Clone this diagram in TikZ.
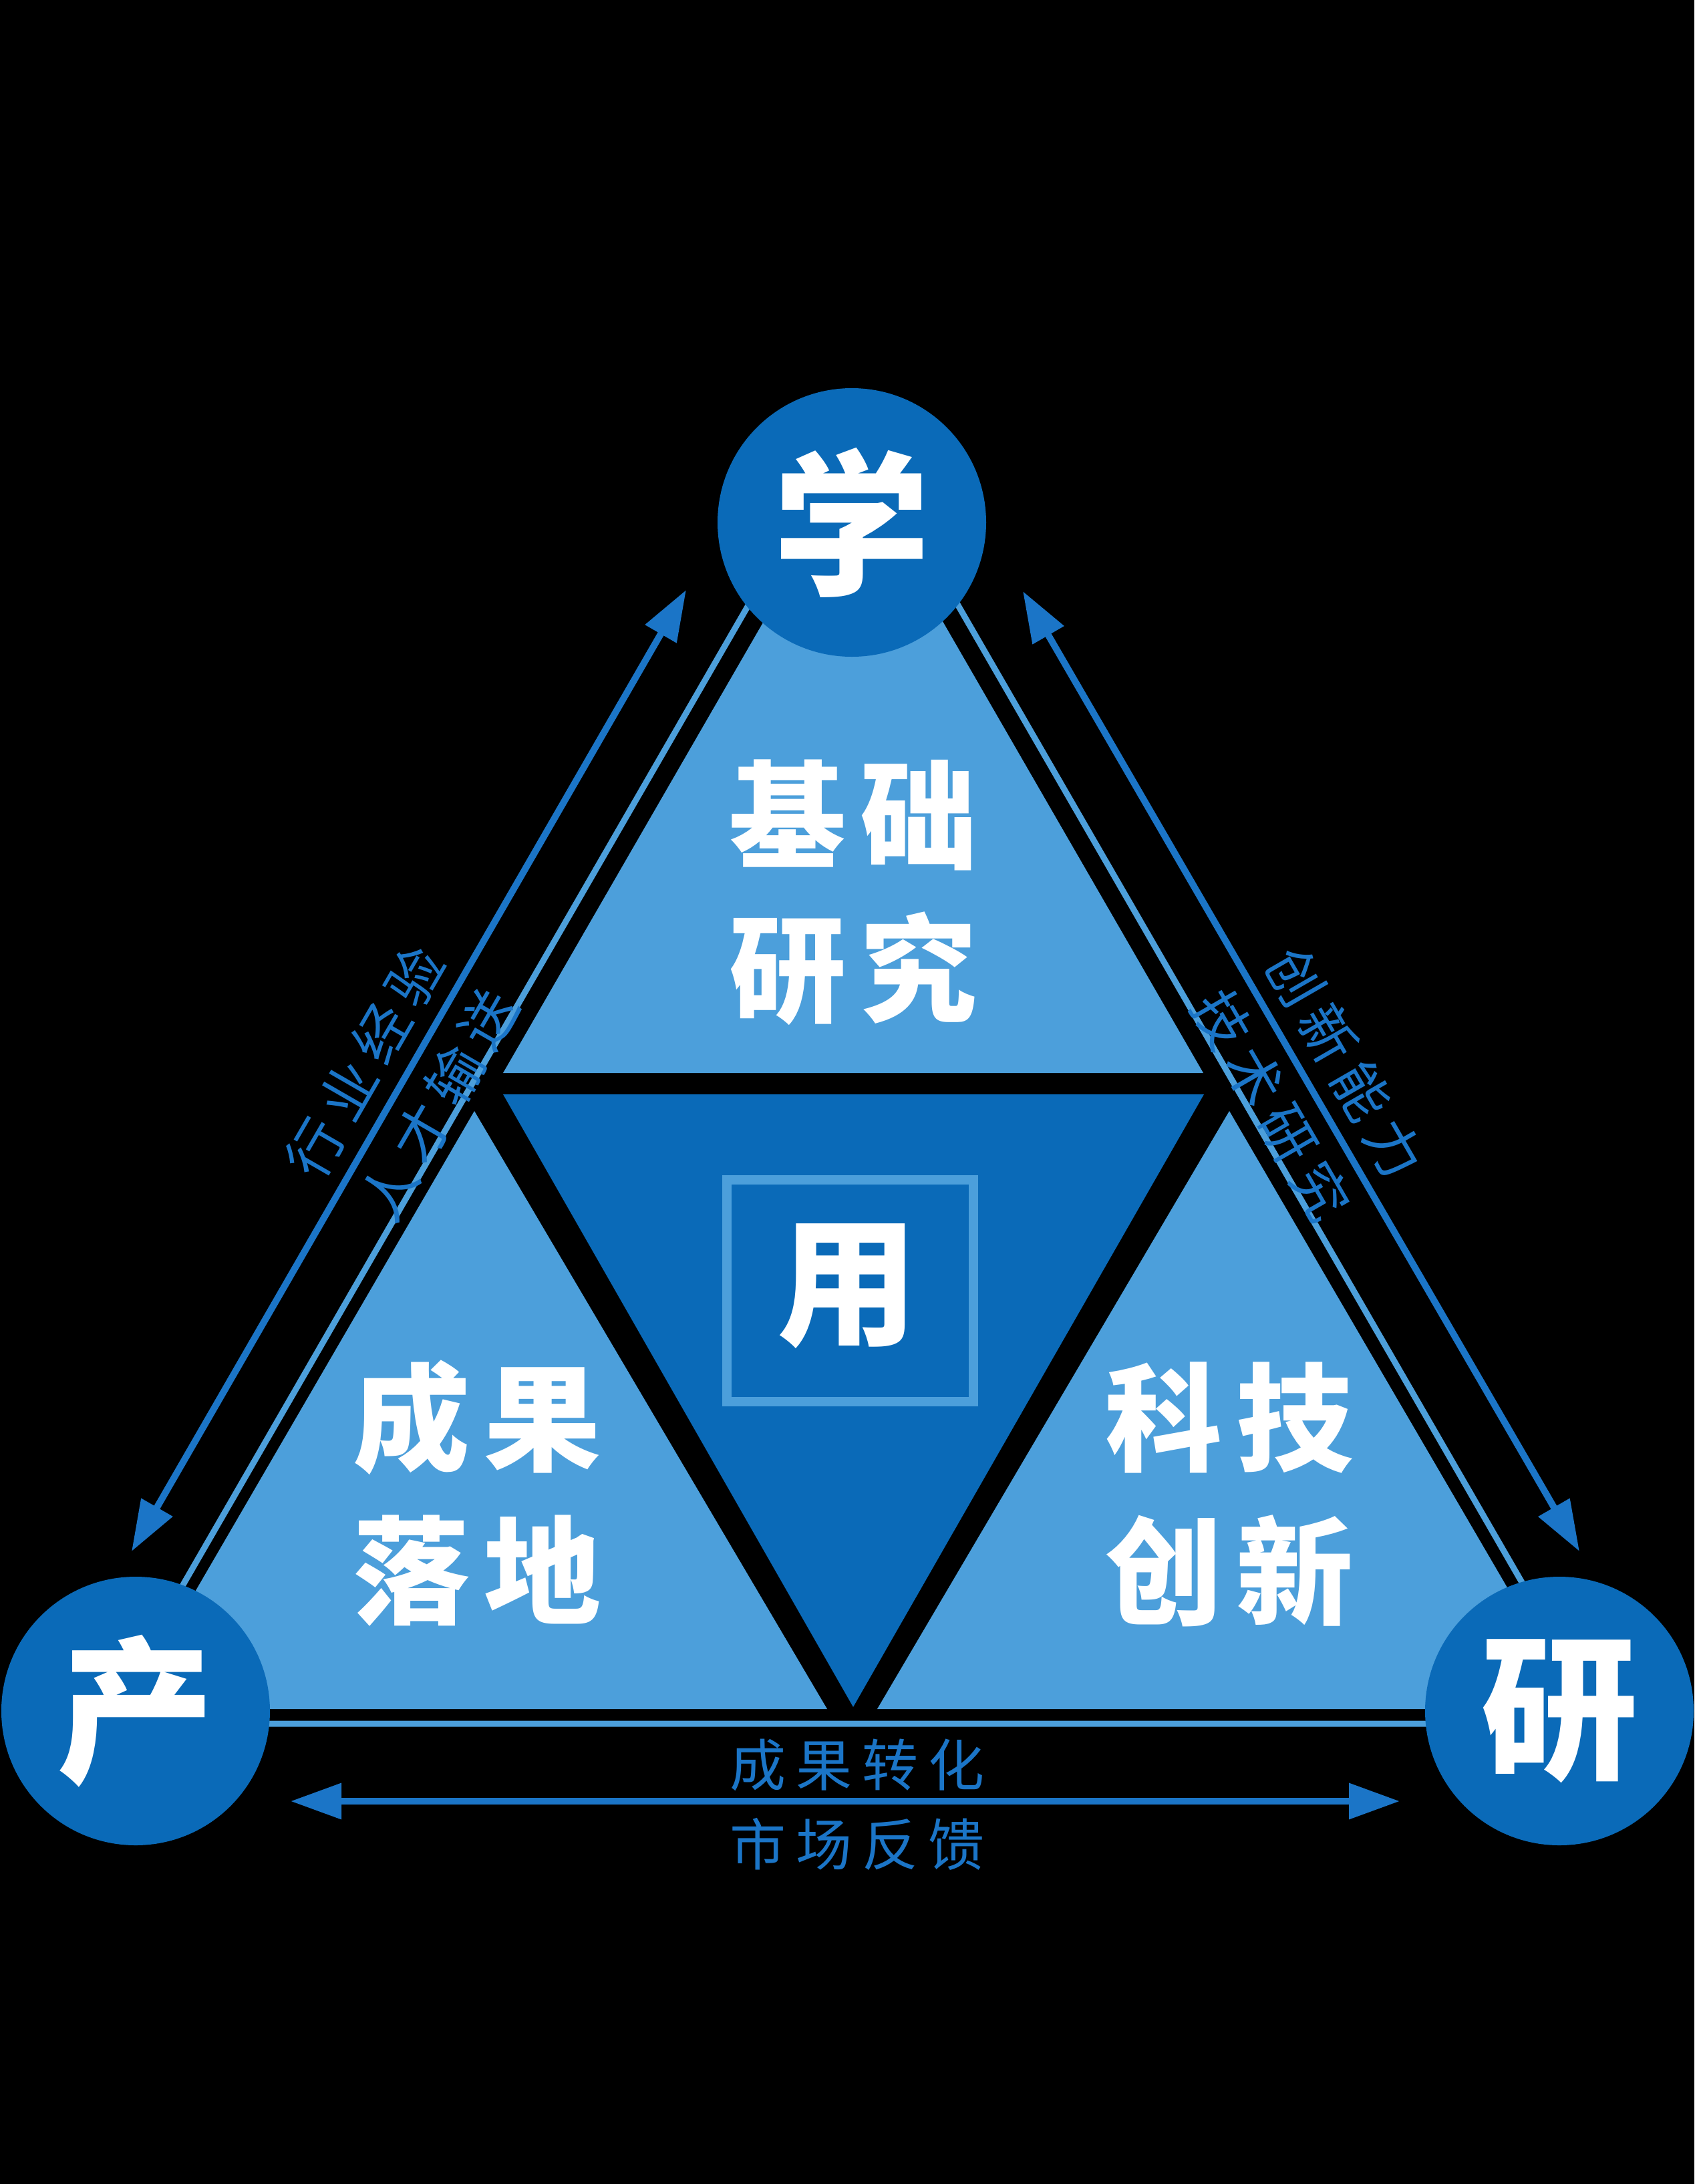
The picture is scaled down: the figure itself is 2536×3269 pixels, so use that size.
\documentclass[tikz,border=0pt]{standalone}
\usepackage{fontspec}
\usetikzlibrary{arrows.meta,calc}
\newfontfamily\cjk{Noto Sans CJK SC}
\definecolor{lblue}{RGB}{76,159,219}
\definecolor{dblue}{RGB}{10,106,184}
\definecolor{ablue}{RGB}{27,117,199}
\begin{document}
\begin{tikzpicture}[x=1pt,y=-1pt,
  subtri/.style={fill=lblue},
  invtri/.style={fill=dblue},
  outl/.style={draw=lblue,line width=9pt,line join=miter},
  circnode/.style={circle,fill=dblue,minimum size=402pt,inner sep=0pt,text=white,
    font=\cjk\bfseries\fontsize{235}{235}\selectfont},
  bigtxt/.style={text=white,inner sep=0pt,font=\cjk\bfseries\fontsize{175}{175}\selectfont},
  usetxt/.style={text=white,inner sep=0pt,font=\cjk\bfseries\fontsize{210}{210}\selectfont},
  lbl/.style={text=ablue,inner sep=0pt,font=\cjk\fontsize{84}{84}\selectfont},
  arr/.style={draw=ablue,line width=10pt,
    {Triangle[length=76pt,width=52pt]}-{Triangle[length=76pt,width=52pt]}},
  boxst/.style={draw=lblue,line width=14pt,fill=dblue}
]
\useasboundingbox (0,0) rectangle (2536,3269);
\fill[black] (0,0) rectangle (2536,3269);

% thin outer outline triangle
\draw[outl] (1277,634) -- (154,2580) -- (2400,2580) -- cycle;

% four sub-triangles
\fill[subtri] (1277,698) -- (753,1606) -- (1801,1606) -- cycle;
\fill[invtri] (753,1638) -- (1802,1638) -- (1277,2555) -- cycle;
\fill[subtri] (710,1663) -- (190,2558) -- (1238,2558) -- cycle;
\fill[subtri] (1840,1663) -- (1313,2558) -- (2362,2558) -- cycle;

% box around 用
\draw[boxst] (1088,1766) rectangle (1457,2098);
\node[usetxt] (yong) at (1268,1925) {用};

% big labels
\node[bigtxt] (jc) at (1277,1220) {基\hspace{21pt}础};
\node[bigtxt] (yj) at (1277,1450) {研\hspace{21pt}究};
\node[bigtxt] (cg) at (714,2122) {成\hspace{21pt}果};
\node[bigtxt] (ld) at (714,2351) {落\hspace{21pt}地};
\node[bigtxt] (kj) at (1840,2122) {科\hspace{21pt}技};
\node[bigtxt] (cx) at (1840,2351) {创\hspace{21pt}新};

% arrow end points
\coordinate (LT) at (1027,883);
\coordinate (LB) at (197,2322);
\coordinate (RT) at (1531,885);
\coordinate (RB) at (2364,2322);
\coordinate (BL) at (435,2696);
\coordinate (BR) at (2095,2696);

\draw[arr] (LT) -- (LB);
\draw[arr] (RT) -- (RB);
\draw[arr] (BL) -- (BR);

% side labels
\node[lbl,rotate=60] (hy) at ($(LT)!0.513!(LB)+(-55,-32)$) {行\hspace{15pt}业\hspace{15pt}经\hspace{15pt}验};
\node[lbl,rotate=60] (rc) at ($(LT)!0.513!(LB)+(55,32)$) {人\hspace{15pt}才\hspace{15pt}输\hspace{15pt}送};
\node[lbl,rotate=-60] (cn) at ($(RT)!0.513!(RB)+(55,-32)$) {创\hspace{15pt}新\hspace{15pt}能\hspace{15pt}力};
\node[lbl,rotate=-60] (js) at ($(RT)!0.513!(RB)+(-55,32)$) {技\hspace{15pt}术\hspace{15pt}研\hspace{15pt}究};
\node[lbl] (zh) at (1283,2642) {成\hspace{15pt}果\hspace{15pt}转\hspace{15pt}化};
\node[lbl] (fk) at (1283,2760) {市\hspace{15pt}场\hspace{15pt}反\hspace{15pt}馈};

% circles
\node[circnode] (xue) at (1275,782) {学};
\node[circnode] (chan) at (203,2561) {产};
\node[circnode] (yan) at (2334,2561) {研};
\end{tikzpicture}
\end{document}
